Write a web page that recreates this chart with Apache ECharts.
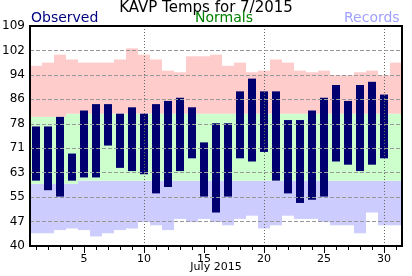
<!DOCTYPE html>
<html lang="en">
<head>
<meta charset="UTF-8">
<title>KAVP Temps for 7/2015</title>
<script src="https://cdn.jsdelivr.net/npm/echarts@6/dist/echarts.min.js"></script>
<style>html,body{margin:0;padding:0;background:#fff;}</style>
</head>
<body>
<div id="main" style="width:412px;height:276px;"></div>
<script type="text/javascript">
    // day of month (x categories)
    var days = ['1','2','3','4','5','6','7','8','9','10','11','12','13','14','15','16',
                '17','18','19','20','21','22','23','24','25','26','27','28','29','30','31'];
    // y tick labels, evenly spaced from 40 to 109
    var yTickLabels = ['40','47','55','63','71','78','86','94','102','109'];

    // observed high / low (no reading for the 31st yet)
    var obsHigh = [77.5,77.5,80.5,69,82.5,84.5,84.5,81.5,83.5,81.5,84.5,85.5,86.5,83.5,72.5,78.5,
                   78.5,88.5,92.5,88.5,88.5,79.5,79.5,82.5,86.5,90.5,85.5,90.5,91.5,87.5,null];
    var obsLow  = [60.5,57.5,55.5,60.5,61.5,61.5,71.5,64.5,63.5,62.5,56.5,58.5,63.5,67.5,55.5,50.5,
                   55.5,67.5,66.5,69.5,60.5,56.5,53.5,54.5,55.5,66.5,65.5,63.5,65.5,67.5,null];
    // normals
    var normHigh = [80.5,80.5,80.5,81.5,81.5,81.5,81.5,81.5,81.5,81.5,81.5,81.5,81.5,81.5,81.5,81.5,
                    81.5,81.5,81.5,81.5,81.5,81.5,81.5,81.5,81.5,81.5,81.5,81.5,81.5,81.5,81.5];
    var normLow  = [59.5,59.5,59.5,59.5,60.5,60.5,60.5,60.5,60.5,60.5,60.5,60.5,60.5,60.5,60.5,60.5,
                    60.5,60.5,60.5,60.5,60.5,60.5,60.5,60.5,60.5,60.5,60.5,60.5,60.5,60.5,60.5];
    // records
    var recHigh = [96.5,97.5,100,98.5,97.5,97.5,97.5,98.5,102,100,98.5,95,94.5,99.5,99.5,100,
                   96.5,97.5,94.5,95,98.5,97.5,95,94.5,95,93.5,93.5,94.5,95,93.5,97.5];
    var recLow  = [44,44,45,45.5,45,43,44,45,45.5,47.5,46.5,45,48.5,47.5,48.5,47.5,
                   46.5,48.5,49.5,45.5,46.5,49.5,48.5,48.5,47.5,46.5,46.5,44,50.5,46.5,46.5];

    var font = 'DejaVu Sans';

    // height of each stacked band = upper - lower
    function diff(a, b) {
        return a.map(function (v, i) {
            return (v == null || b[i] == null) ? null : +(v - b[i]).toFixed(2);
        });
    }
    function everyFifth(i) { return (i + 1) % 5 === 0; }

    var myChart = echarts.init(document.getElementById('main'));

    myChart.setOption({
        animation: false,
        backgroundColor: '#fff',
        textStyle: {fontFamily: font},
        title: [
            {text: 'KAVP Temps for 7/2015', left: 'center', top: 1, padding: 0,
             textStyle: {fontSize: 15, fontWeight: 'normal', color: '#000', fontFamily: font}},
            {text: 'Observed', left: 31, top: 11, padding: 0,
             textStyle: {fontSize: 14, fontWeight: 'normal', color: '#000080', fontFamily: font}},
            {text: 'Normals', left: 195, top: 11, padding: 0,
             textStyle: {fontSize: 14, fontWeight: 'normal', color: '#008000', fontFamily: font}},
            {text: 'Records', left: 344, top: 11, padding: 0,
             textStyle: {fontSize: 14, fontWeight: 'normal', color: '#a0a0ff', fontFamily: font}}
        ],
        grid: {
            left: 30, right: 10, top: 26, bottom: 30, outerBoundsMode: 'none',
            show: true, borderColor: '#000', borderWidth: 2, z: 10, backgroundColor: 'transparent'
        },
        xAxis: [
            {
                type: 'category', data: days, position: 'bottom',
                axisLine: {show: true, lineStyle: {color: '#000', width: 2}},
                axisTick: {show: true, alignWithLabel: true, interval: 0, length: 4, lineStyle: {color: '#000'}},
                axisLabel: {interval: everyFifth, color: '#000', fontSize: 11, margin: 8, fontFamily: font},
                name: 'July 2015', nameLocation: 'middle', nameGap: 16, nameMoveOverlap: false,
                nameTextStyle: {color: '#000', fontSize: 11, fontFamily: font}
            },
            {
                // longer ticks on the labelled days
                type: 'category', data: days, position: 'bottom',
                axisLine: {show: false},
                axisTick: {show: true, alignWithLabel: true, length: 7, interval: everyFifth,
                           lineStyle: {color: '#000'}},
                axisLabel: {show: false}
            }
        ],
        yAxis: [
            {type: 'value', min: 40, max: 109, show: false, splitLine: {show: false}},
            {
                // grid/label axis: one step per entry of yTickLabels
                type: 'value', min: 0, max: yTickLabels.length - 1, interval: 1, position: 'left', z: 8,
                axisLine: {show: false}, axisTick: {show: false},
                axisLabel: {
                    formatter: function (v) { return yTickLabels[Math.round(v)]; },
                    color: '#000', fontSize: 12, margin: 5, fontFamily: font
                },
                splitLine: {show: true, lineStyle: {color: '#999', type: [4, 2], width: 1}}
            }
        ],
        series: [
            {type: 'bar', stack: 'bg', barCategoryGap: '0%', data: recLow, itemStyle: {color: 'transparent'}},
            {type: 'bar', stack: 'bg', data: diff(normLow, recLow), itemStyle: {color: '#ccccff'}},
            {type: 'bar', stack: 'bg', data: diff(normHigh, normLow), itemStyle: {color: '#ccffcc'}},
            {type: 'bar', stack: 'bg', data: diff(recHigh, normHigh), itemStyle: {color: '#ffcccc'}},
            {type: 'bar', stack: 'obs', xAxisIndex: 1, barWidth: 8, data: obsLow,
             itemStyle: {color: 'transparent'}},
            {
                type: 'bar', stack: 'obs', xAxisIndex: 1, barWidth: 8, data: diff(obsHigh, obsLow),
                itemStyle: {color: '#000070'},
                markLine: {
                    silent: true, symbol: ['none', 'none'], label: {show: false},
                    lineStyle: {color: '#666', type: [1, 2], width: 1},
                    data: [{xAxis: '10'}, {xAxis: '20'}, {xAxis: '30'}]
                }
            }
        ]
    });
</script>
</body>
</html>
